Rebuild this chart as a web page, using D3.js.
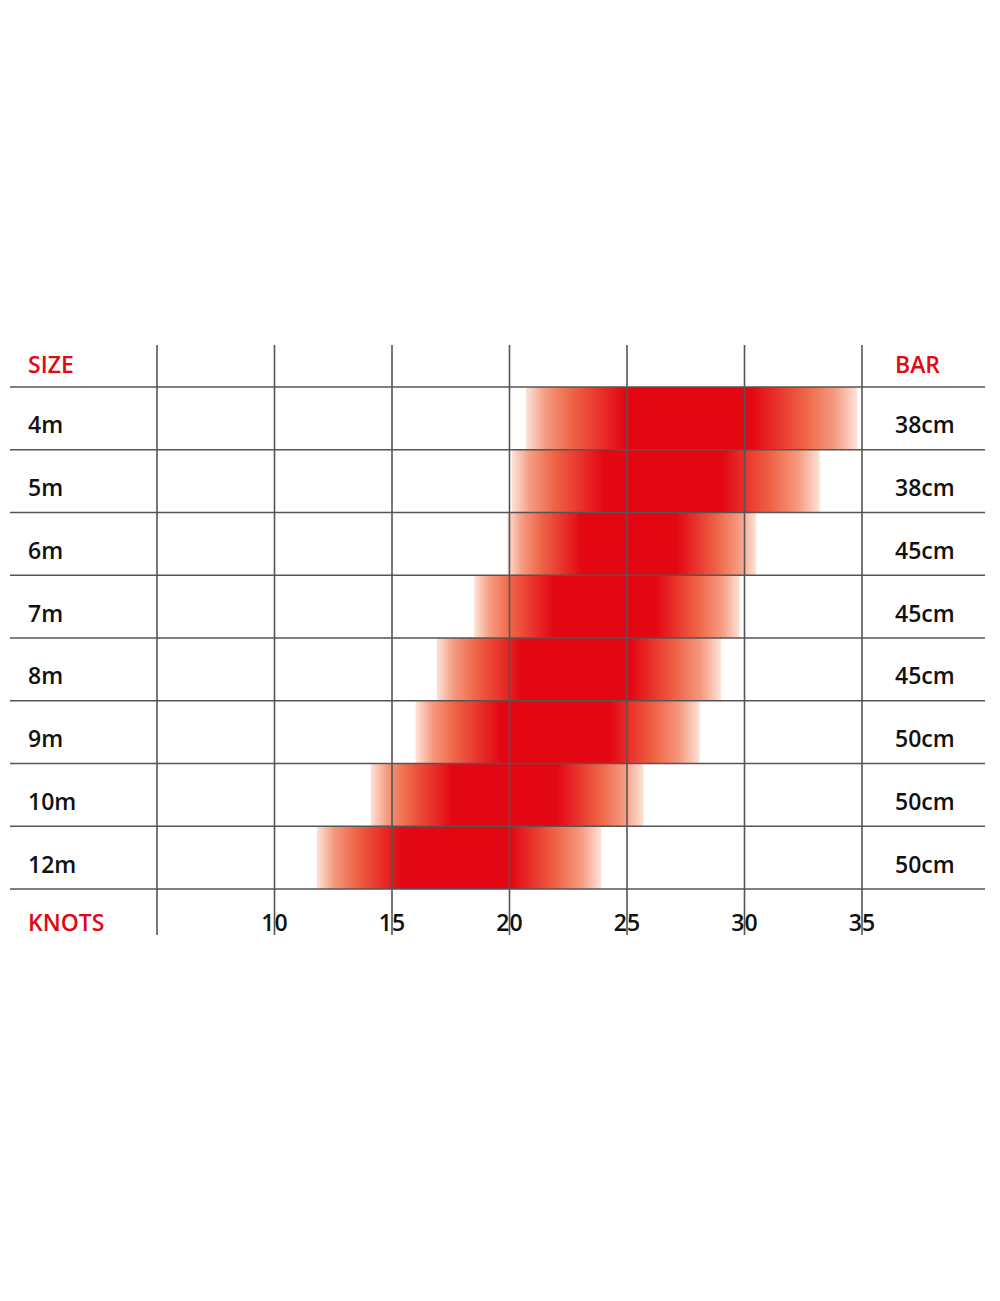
<!DOCTYPE html><html><head><meta charset="utf-8"><script src="https://cdn.jsdelivr.net/npm/d3@7"></script>
<style>body{margin:0;background:#fff}text{font-family:"Open Sans",sans-serif;font-weight:600;font-size:23px}</style></head><body><svg id="c" width="1000" height="1301"></svg>
<script>
const sizes=["4m","5m","6m","7m","8m","9m","10m","12m"];
const bars=["38cm","38cm","45cm","45cm","45cm","50cm","50cm","50cm"];
const minKnots=[20.7,20.1,19.9,18.5,16.9,16.0,14.1,11.8];
const maxKnots=[34.8,33.2,30.5,29.8,29.0,28.1,25.7,23.9];
const ticks=[10,15,20,25,30,35];
const svg=d3.select("#c");
const x=d3.scaleLinear().domain([5,35]).range([157,862]);
const y=d3.scaleBand().domain(sizes).range([387,889]);
const red="#e30613";
const defs=svg.append("defs");
const g=defs.append("linearGradient").attr("id","gr");
[[0,"#fde3d8"],[0.06,"#f59a7f"],[0.14,"#ee6345"],[0.3,red],[0.68,red],[0.84,"#ee6345"],[0.93,"#f59a7f"],[1,"#fde3d8"]].forEach(s=>g.append("stop").attr("offset",s[0]).attr("stop-color",s[1]));
svg.selectAll("rect.b").data(sizes).join("rect").attr("x",(d,i)=>x(minKnots[i])).attr("width",(d,i)=>x(maxKnots[i])-x(minKnots[i])).attr("y",d=>y(d)).attr("height",y.bandwidth()).attr("fill","url(#gr)");
const grid=svg.append("g").attr("stroke","#555").attr("stroke-width",1.6);
[5].concat(ticks).forEach(t=>grid.append("line").attr("x1",x(t)).attr("x2",x(t)).attr("y1",345).attr("y2",935));
sizes.concat(["end"]).forEach((d,i)=>{const yy=387+i*y.step();grid.append("line").attr("x1",10).attr("x2",985).attr("y1",yy).attr("y2",yy);});
svg.append("text").attr("x",28).attr("y",373).attr("fill",red).text("SIZE");
svg.append("text").attr("x",895).attr("y",373).attr("fill",red).text("BAR");
svg.append("text").attr("x",28).attr("y",931).attr("fill",red).text("KNOTS");
svg.selectAll("text.s").data(sizes).join("text").attr("x",28).attr("y",d=>y(d)+y.bandwidth()/2+15).attr("fill","#111").text(d=>d);
svg.selectAll("text.r").data(bars).join("text").attr("x",895).attr("y",(d,i)=>y(sizes[i])+y.bandwidth()/2+15).attr("fill","#111").text(d=>d);
svg.selectAll("text.t").data(ticks).join("text").attr("x",d=>x(d)).attr("y",931).attr("text-anchor","middle").attr("fill","#111").text(d=>d);
</script></body></html>
